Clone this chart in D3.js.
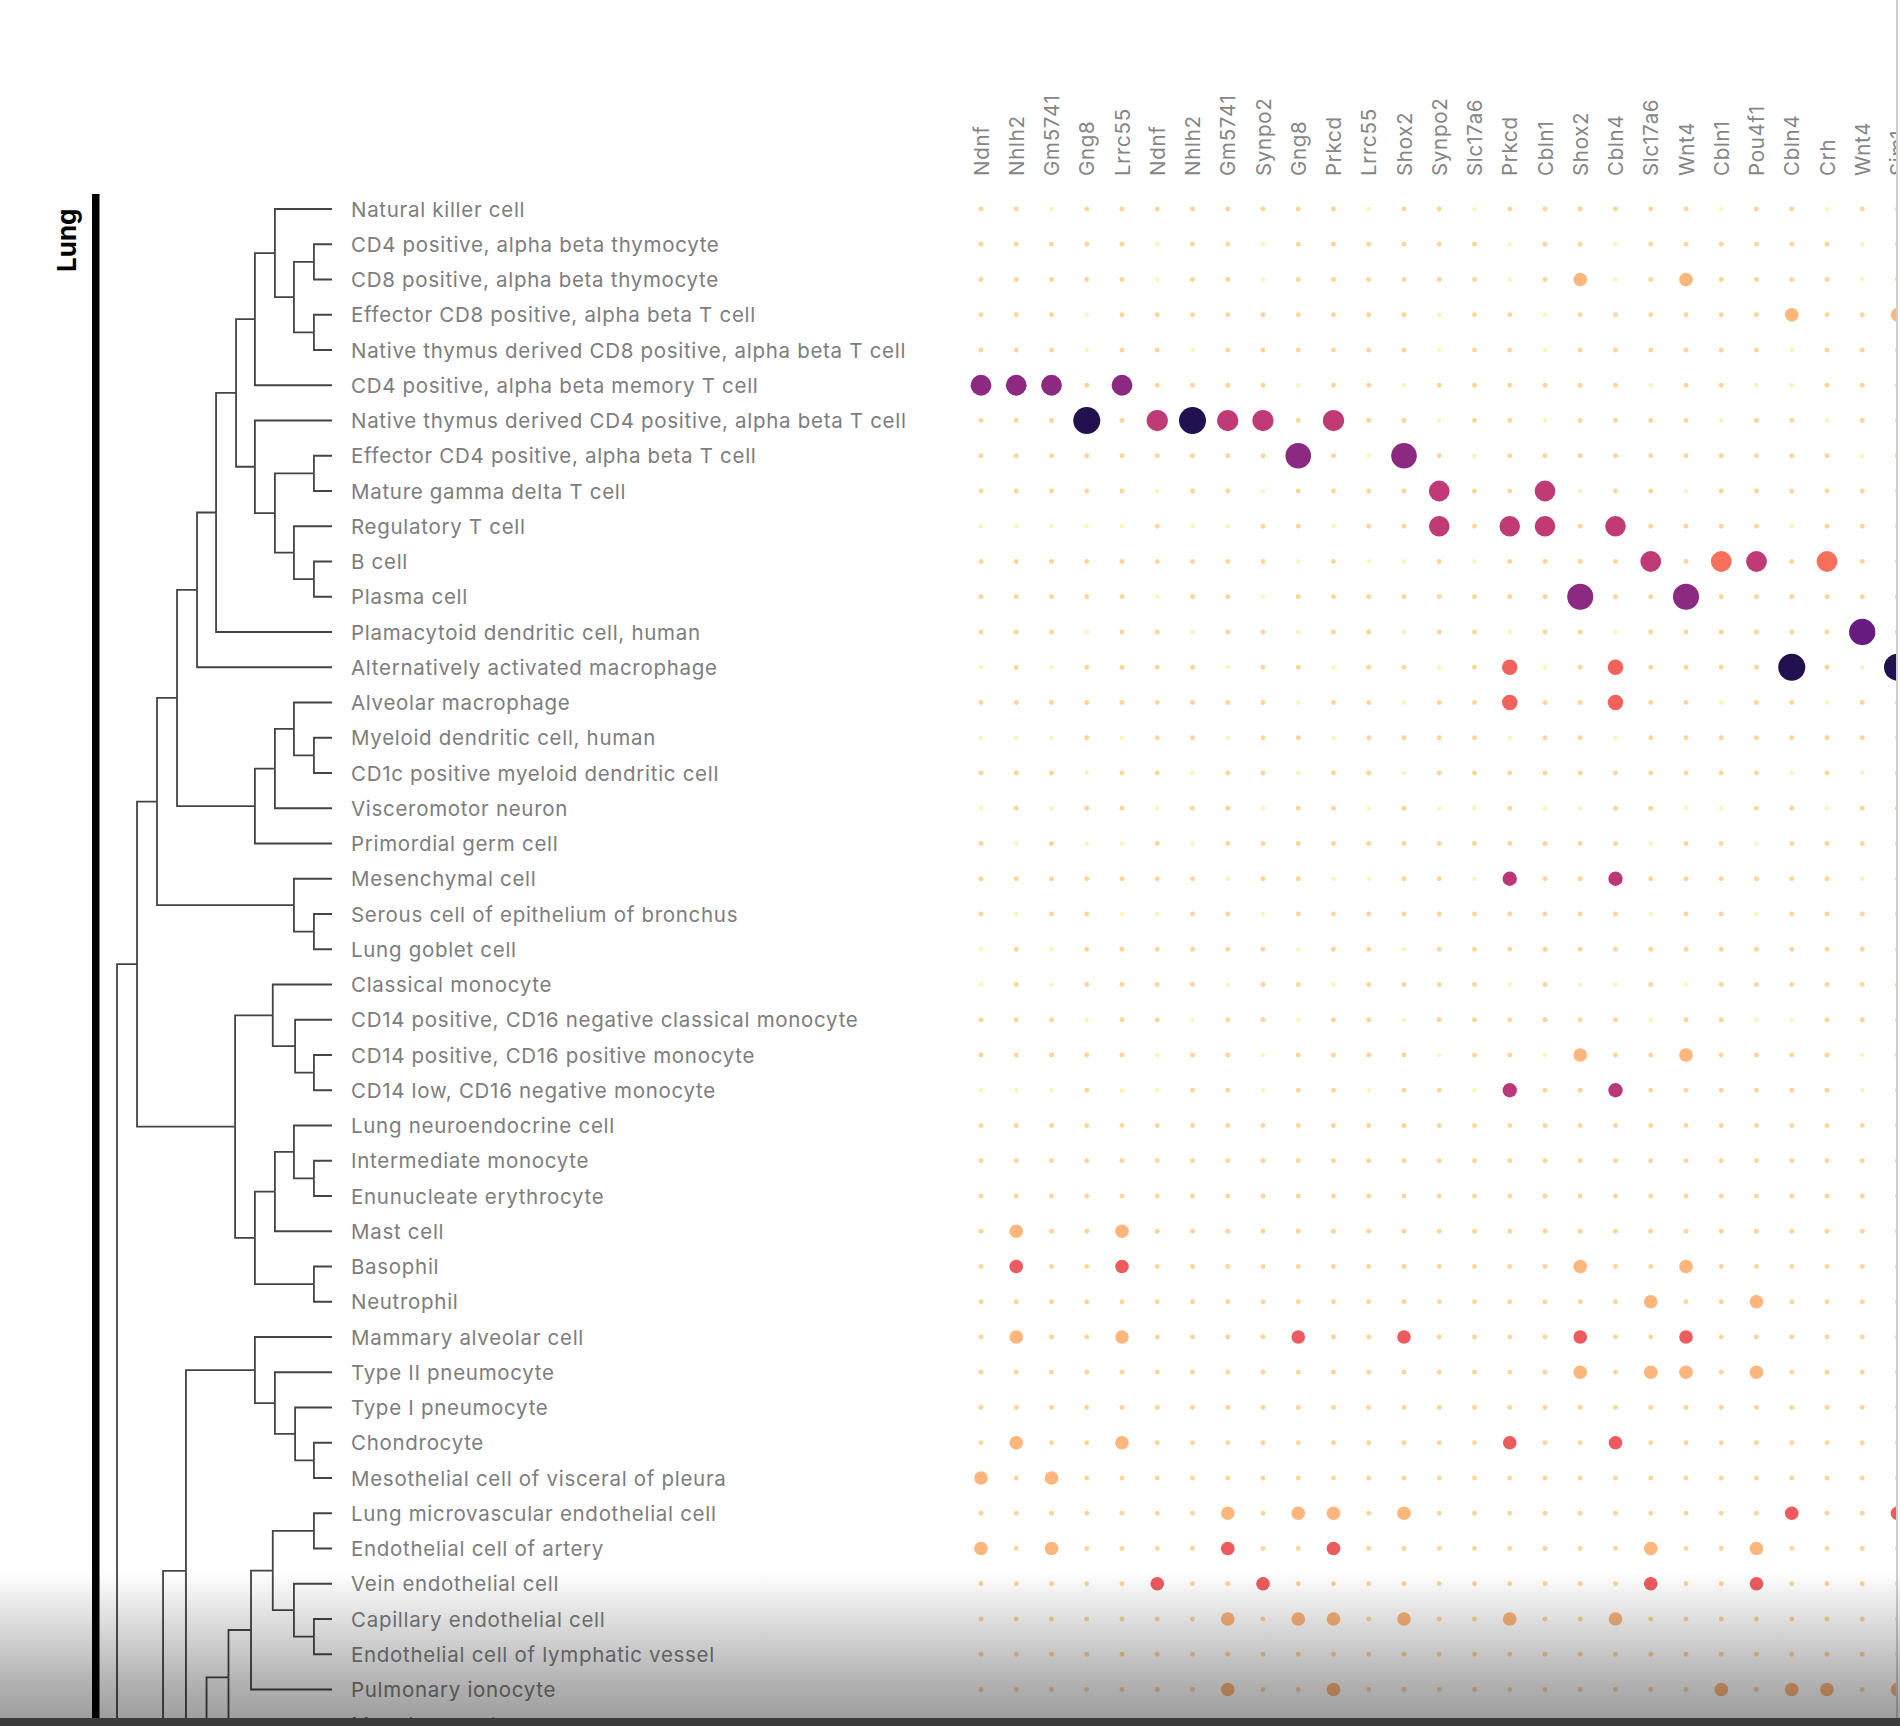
<!DOCTYPE html>
<html>
<head>
<meta charset="utf-8">
<script src="https://cdn.jsdelivr.net/npm/d3@7"></script>
<style>
  body { margin: 0; background: #fff; }
  text { font-family: Inter, "Noto Sans", sans-serif; }
</style>
</head>
<body>
<div id="chart"></div>
<script>
const tissue = 'Lung';

const cellTypes = [
  'Natural killer cell',
  'CD4 positive, alpha beta thymocyte',
  'CD8 positive, alpha beta thymocyte',
  'Effector CD8 positive, alpha beta T cell',
  'Native thymus derived CD8 positive, alpha beta T cell',
  'CD4 positive, alpha beta memory T cell',
  'Native thymus derived CD4 positive, alpha beta T cell',
  'Effector CD4 positive, alpha beta T cell',
  'Mature gamma delta T cell',
  'Regulatory T cell',
  'B cell',
  'Plasma cell',
  'Plamacytoid dendritic cell, human',
  'Alternatively activated macrophage',
  'Alveolar macrophage',
  'Myeloid dendritic cell, human',
  'CD1c positive myeloid dendritic cell',
  'Visceromotor neuron',
  'Primordial germ cell',
  'Mesenchymal cell',
  'Serous cell of epithelium of bronchus',
  'Lung goblet cell',
  'Classical monocyte',
  'CD14 positive, CD16 negative classical monocyte',
  'CD14 positive, CD16 positive monocyte',
  'CD14 low, CD16 negative monocyte',
  'Lung neuroendocrine cell',
  'Intermediate monocyte',
  'Enunucleate erythrocyte',
  'Mast cell',
  'Basophil',
  'Neutrophil',
  'Mammary alveolar cell',
  'Type II pneumocyte',
  'Type I pneumocyte',
  'Chondrocyte',
  'Mesothelial cell of visceral of pleura',
  'Lung microvascular endothelial cell',
  'Endothelial cell of artery',
  'Vein endothelial cell',
  'Capillary endothelial cell',
  'Endothelial cell of lymphatic vessel',
  'Pulmonary ionocyte',
  'Megakaryocyte'
];

const genes = ['Ndnf', 'Nhlh2', 'Gm5741', 'Gng8', 'Lrrc55', 'Ndnf', 'Nhlh2', 'Gm5741', 'Synpo2',
  'Gng8', 'Prkcd', 'Lrrc55', 'Shox2', 'Synpo2', 'Slc17a6', 'Prkcd', 'Cbln1', 'Shox2', 'Cbln4',
  'Slc17a6', 'Wnt4', 'Cbln1', 'Pou4f1', 'Cbln4', 'Crh', 'Wnt4', 'Sim1'];

// columns where the background dot is almost empty, one list per row
const faintCols = [
  [2, 11, 14, 21, 24], [5, 8, 15, 18, 25], [5, 8, 15, 18, 25], [3, 13, 16], [3, 6, 13, 16, 23],
  [9, 12, 19, 22, 23], [13, 16, 21, 24], [11, 14, 25], [5, 8, 17, 20], [0, 1, 2, 3, 4, 6, 7, 10, 23],
  [9, 11, 12, 14], [5, 8], [3, 6, 9, 12, 15, 18], [0, 2, 7, 10, 13, 16, 25], [9, 12, 21, 24],
  [0, 1, 2, 4, 7, 10, 15, 18], [3, 6, 9, 12, 23, 25], [0, 2, 5, 8, 11, 13, 14, 16, 17, 20, 21, 24],
  [1, 3, 4, 6, 19, 22], [7, 10, 11, 14, 25], [1, 4, 5, 8, 19, 22], [0, 2, 9, 12],
  [0, 2, 7, 10, 15, 17, 18, 20], [3, 6, 9, 12, 19, 22, 23], [5, 8, 13, 16, 25],
  [0, 1, 2, 4, 5, 8, 11, 14, 25]
];

// [row, col, mean expression, fraction of cells]
const markers = [
  [2, 17, 0.16, 0.42], [2, 20, 0.16, 0.42],
  [3, 23, 0.16, 0.42], [3, 26, 0.16, 0.42],
  [5, 0, 0.69, 0.73], [5, 1, 0.69, 0.73], [5, 2, 0.69, 0.73], [5, 4, 0.69, 0.73],
  [6, 3, 1.0, 1.0], [6, 6, 1.0, 1.0], [6, 5, 0.54, 0.75], [6, 7, 0.54, 0.75], [6, 8, 0.54, 0.75], [6, 10, 0.54, 0.75],
  [7, 9, 0.69, 0.94], [7, 12, 0.69, 0.94],
  [8, 13, 0.54, 0.73], [8, 16, 0.54, 0.73],
  [9, 13, 0.54, 0.72], [9, 15, 0.54, 0.72], [9, 16, 0.54, 0.72], [9, 18, 0.54, 0.72],
  [10, 19, 0.54, 0.73], [10, 22, 0.54, 0.73], [10, 21, 0.33, 0.73], [10, 24, 0.33, 0.73],
  [11, 17, 0.69, 0.96], [11, 20, 0.69, 0.96],
  [12, 25, 0.8, 0.97],
  [13, 15, 0.37, 0.5], [13, 18, 0.37, 0.5], [13, 23, 1.0, 1.0], [13, 26, 1.0, 1.0],
  [14, 15, 0.37, 0.5], [14, 18, 0.37, 0.5],
  [19, 15, 0.56, 0.45], [19, 18, 0.56, 0.45],
  [24, 17, 0.16, 0.42], [24, 20, 0.16, 0.42],
  [25, 15, 0.56, 0.45], [25, 18, 0.56, 0.45],
  [29, 1, 0.16, 0.42], [29, 4, 0.16, 0.42],
  [30, 1, 0.39, 0.42], [30, 4, 0.39, 0.42], [30, 17, 0.16, 0.42], [30, 20, 0.16, 0.42],
  [31, 19, 0.16, 0.42], [31, 22, 0.16, 0.42],
  [32, 1, 0.16, 0.42], [32, 4, 0.16, 0.42], [32, 9, 0.39, 0.42], [32, 12, 0.39, 0.42], [32, 17, 0.39, 0.42], [32, 20, 0.39, 0.42],
  [33, 17, 0.16, 0.42], [33, 19, 0.16, 0.42], [33, 20, 0.16, 0.42], [33, 22, 0.16, 0.42],
  [35, 1, 0.16, 0.42], [35, 4, 0.16, 0.42], [35, 15, 0.39, 0.42], [35, 18, 0.39, 0.42],
  [36, 0, 0.16, 0.42], [36, 2, 0.16, 0.42],
  [37, 7, 0.16, 0.42], [37, 9, 0.16, 0.42], [37, 10, 0.16, 0.42], [37, 12, 0.16, 0.42], [37, 23, 0.39, 0.42], [37, 26, 0.39, 0.42],
  [38, 0, 0.16, 0.42], [38, 2, 0.16, 0.42], [38, 19, 0.16, 0.42], [38, 22, 0.16, 0.42], [38, 7, 0.39, 0.42], [38, 10, 0.39, 0.42],
  [39, 5, 0.39, 0.42], [39, 8, 0.39, 0.42], [39, 19, 0.39, 0.42], [39, 22, 0.39, 0.42],
  [40, 7, 0.16, 0.42], [40, 9, 0.16, 0.42], [40, 10, 0.16, 0.42], [40, 12, 0.16, 0.42], [40, 15, 0.16, 0.42], [40, 18, 0.16, 0.42],
  [42, 7, 0.16, 0.42], [42, 10, 0.16, 0.42], [42, 21, 0.16, 0.42], [42, 23, 0.16, 0.42], [42, 24, 0.16, 0.42], [42, 26, 0.16, 0.42],
  [43, 9, 0.16, 0.42], [43, 12, 0.16, 0.42], [43, 15, 0.16, 0.42], [43, 18, 0.16, 0.42]
];

// dendrogram merges: [id, left, right, height]; numbers are rows (rows past the list are below the view)
const merges = [
  ['m1', 1, 2, 0.93], ['m2', 3, 4, 0.93], ['m3', 'm1', 'm2', 1.96], ['m4', 0, 'm3', 2.94],
  ['m5', 'm4', 5, 3.97], ['m6', 7, 8, 0.93], ['m7', 10, 11, 0.93], ['m8', 9, 'm7', 1.96],
  ['m9', 'm6', 'm8', 2.94], ['m10', 6, 'm9', 3.97], ['m11', 'm5', 'm10', 4.94],
  ['m12', 'm11', 12, 5.97], ['m13', 'm12', 13, 6.95],
  ['m14', 15, 16, 0.93], ['m15', 14, 'm14', 1.96], ['m16', 'm15', 17, 2.94], ['m17', 'm16', 18, 3.97],
  ['m18', 'm13', 'm17', 7.98], ['m19', 20, 21, 0.93], ['m20', 19, 'm19', 1.96], ['m21', 'm18', 'm20', 9.01],
  ['m22', 24, 25, 0.93], ['m23', 23, 'm22', 1.90], ['m24', 22, 'm23', 3.05],
  ['m25', 27, 28, 0.93], ['m26', 26, 'm25', 1.96], ['m27', 'm26', 29, 2.94], ['m28', 30, 31, 0.93],
  ['m29', 'm27', 'm28', 3.97], ['m30', 'm24', 'm29', 4.99], ['m31', 'm21', 'm30', 10.04],
  ['m32', 35, 36, 0.93], ['m33', 34, 'm32', 1.90], ['m34', 33, 'm33', 2.94], ['m35', 32, 'm34', 3.97],
  ['m36', 37, 38, 0.93], ['m37', 40, 41, 0.93], ['m38', 39, 'm37', 1.96], ['m39', 'm36', 'm38', 3.05],
  ['m40', 'm39', 42, 4.17], ['m41', 'm40', 43, 5.33], ['m42', 'm41', 47, 6.46],
  ['m43', 'm35', 'm42', 7.52], ['m44', 'm43', 60, 8.70], ['m45', 'm31', 80, 11.07]
];

const width = 1900, height = 1726;
const svg = d3.select('#chart').append('svg')
  .attr('width', width)
  .attr('height', height);

const y = d3.scaleLinear().domain([0, 1]).range([209, 244.25]);
const x = d3.scaleLinear().domain([0, 1]).range([981, 1016.25]);
const xh = d3.scaleLinear().domain([0, 1]).range([332, 312.58]);
const rad = d3.scaleLinear().domain([0, 1]).range([2, 13.5]);
const color = d3.scaleSequential(t => d3.interpolateMagma(0.98 - 0.84 * t)).domain([0, 1]);

svg.append('defs').append('clipPath').attr('id', 'clip')
  .append('rect').attr('x', 0).attr('y', 0).attr('width', 1896).attr('height', height);

// tissue bar and title
svg.append('rect')
  .attr('x', 92).attr('y', 194).attr('width', 7.5).attr('height', height - 194)
  .attr('fill', '#000');
svg.append('text')
  .attr('transform', 'translate(76,272) rotate(-90)')
  .attr('font-size', 26).attr('font-weight', 700).attr('fill', '#000')
  .text(tissue);

// dendrogram
const nodes = new Map();
const used = new Set();
merges.forEach(([id, a, b, h]) => {
  const kid = k => {
    if (typeof k === 'number') return { row: k, h: 0 };
    used.add(k);
    return nodes.get(k);
  };
  const children = [kid(a), kid(b)];
  nodes.set(id, { id, h, children, row: (children[0].row + children[1].row) / 2 });
});
const roots = merges.map(m => m[0]).filter(id => !used.has(id)).map(id => d3.hierarchy(nodes.get(id)));
const links = roots.flatMap(rt => rt.links());
svg.append('g')
  .selectAll('path')
  .data(links)
  .enter()
  .append('path')
  .attr('d', d => `M${xh(d.source.data.h)},${y(d.source.data.row)}V${y(d.target.data.row)}H${xh(d.target.data.h)}`)
  .attr('fill', 'none')
  .attr('stroke', '#444')
  .attr('stroke-width', 1.8);

// row labels
svg.append('g')
  .selectAll('text')
  .data(cellTypes)
  .enter()
  .append('text')
  .attr('x', 351)
  .attr('y', (d, i) => y(i))
  .attr('dominant-baseline', 'central')
  .attr('font-size', 20.5)
  .attr('letter-spacing', 0.7)
  .attr('fill', '#7d7d7d')
  .text(d => d);

const plot = svg.append('g').attr('clip-path', 'url(#clip)');

// column labels
plot.append('g')
  .selectAll('text')
  .data(genes)
  .enter()
  .append('text')
  .attr('transform', (d, i) => `translate(${x(i)},176) rotate(-90)`)
  .attr('dominant-baseline', 'central')
  .attr('font-size', 20.5)
  .attr('letter-spacing', 0.7)
  .attr('fill', '#858585')
  .text(d => d);

// dot grid
const cells = [];
cellTypes.forEach((ct, ri) => {
  const faint = new Set(faintCols[ri] || []);
  genes.forEach((g, ci) => {
    cells.push(faint.has(ci) ? { ri, ci, e: 0, f: 0.02 } : { ri, ci, e: 0.08, f: 0.04 });
  });
});
markers.forEach(([ri, ci, e, f]) => {
  const c = cells[ri * genes.length + ci];
  c.e = e; c.f = f;
});
cells.sort((a, b) => a.f - b.f);
plot.append('g')
  .selectAll('circle')
  .data(cells)
  .enter()
  .append('circle')
  .attr('cx', d => x(d.ci))
  .attr('cy', d => y(d.ri))
  .attr('r', d => rad(d.f))
  .attr('fill', d => color(d.e));

// right edge
svg.append('line')
  .attr('x1', 1897).attr('x2', 1897).attr('y1', 0).attr('y2', height)
  .attr('stroke', '#cfcfcf').attr('stroke-width', 2);

// bottom fade and bar
const grad = svg.select('defs').append('linearGradient')
  .attr('id', 'fade').attr('gradientUnits', 'userSpaceOnUse')
  .attr('x1', 0).attr('y1', 1572).attr('x2', 0).attr('y2', 1718);
[[0, 0], [0.3, 0.12], [0.78, 0.31], [1, 0.38]].forEach(([o, a]) => {
  grad.append('stop').attr('offset', o).attr('stop-color', '#000').attr('stop-opacity', a);
});
svg.append('rect').attr('x', 0).attr('y', 1572).attr('width', width).attr('height', 146).attr('fill', 'url(#fade)');
svg.append('rect').attr('x', 0).attr('y', 1718).attr('width', width).attr('height', 8).attr('fill', '#3b3b3b');
</script>
</body>
</html>
